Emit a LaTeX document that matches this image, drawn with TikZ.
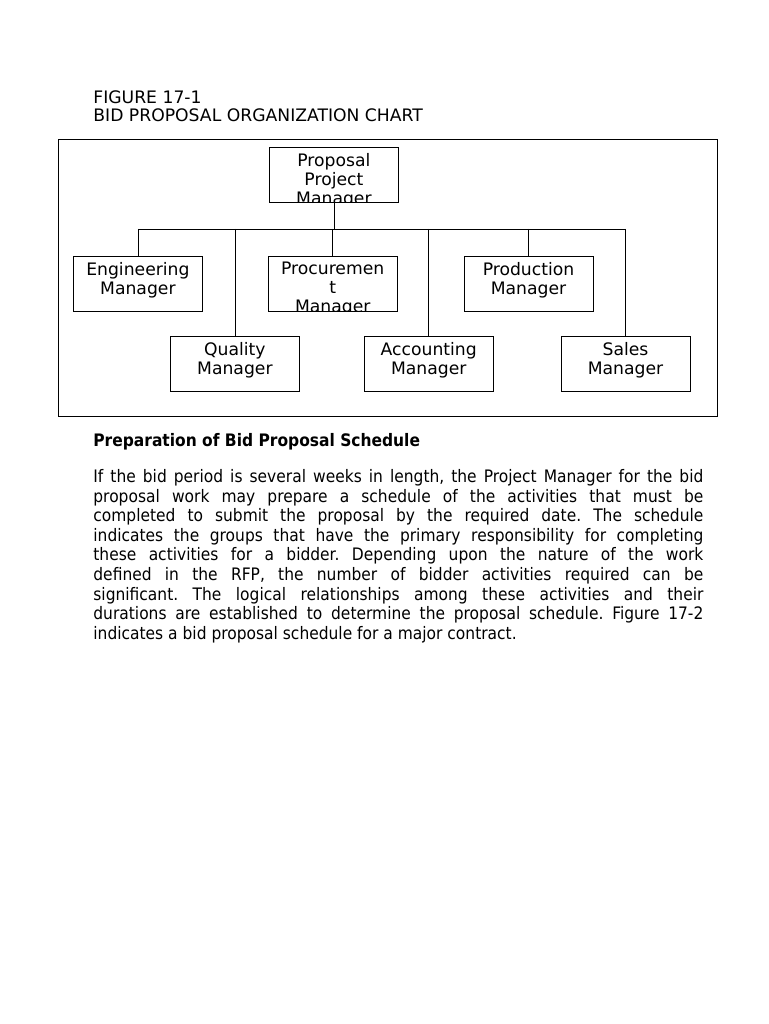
\documentclass[tikz,border=0pt]{standalone}
\usepackage{fontspec}
\setmainfont{DejaVu Sans}
\newfontfamily\narrowfont[FakeStretch=0.9]{DejaVu Sans}
\usetikzlibrary{positioning}
\newcommand{\boxfont}{\fontsize{17.2}{19}\selectfont}
\newcommand{\bodyfont}{\narrowfont\fontsize{17.2}{19.6}\selectfont\frenchspacing}

\tikzset{
  orgbox/.style={draw, minimum width=129pt, minimum height=55pt, inner sep=0pt},
  boxtext/.style={anchor=north, yshift=-6pt, align=center, inner sep=0pt, font=\boxfont},
}

\begin{document}
\begin{tikzpicture}[x=1pt, y=-1pt, line width=0.8pt]
        \useasboundingbox (0,0) rectangle (768,1024);

        \node [anchor=north west, align=left, inner sep=0pt, font=\fontsize{17.2}{18}\selectfont] (title) at (93,90)
              {FIGURE 17-1\\BID PROPOSAL ORGANIZATION CHART};
        \draw (58,139) rectangle (717,416);

        \node [orgbox, anchor=north west] (pm) at (269,147) {};
        \node [orgbox, anchor=north west] (eng) at (73,256) {};
        \node [orgbox, right=65pt of eng] (proc) {};
        \node [orgbox, right=66pt of proc] (prod) {};
        \node [orgbox, anchor=north west] (qual) at (170,336) {};
        \node [orgbox, right=64pt of qual] (acc) {};
        \node [orgbox, right=67pt of acc] (sal) {};

        \begin{scope}
          \clip (pm.south west) rectangle (pm.north east);
          \node [boxtext] (pmtext) at (pm.north) {Proposal\\Project\\Manager};
        \end{scope}
        \begin{scope}
          \clip (proc.south west) rectangle (proc.north east);
          \node [boxtext] (proctext) at (proc.north) {Procuremen\\t\\Manager};
        \end{scope}
        \node [boxtext] (engtext) at (eng.north) {Engineering\\Manager};
        \node [boxtext] (prodtext) at (prod.north) {Production\\Manager};
        \node [boxtext] (qualtext) at (qual.north) {Quality\\Manager};
        \node [boxtext] (acctext) at (acc.north) {Accounting\\Manager};
        \node [boxtext] (saltext) at (sal.north) {Sales\\Manager};

        \coordinate (bus) at (0,229);
        \draw (pm.south) -- (pm.south |- bus);
        \draw (eng.north |- bus) -- (sal.north |- bus);
        \foreach \n in {eng, qual, proc, acc, prod, sal}
          \draw (\n.north |- bus) -- (\n.north);

        \node [anchor=north west, inner sep=0pt, font=\bodyfont\bfseries] (head) at (93,433)
              {Preparation of Bid Proposal Schedule};
        \node [anchor=north west, text width=610pt, align=justify, inner sep=0pt, font=\bodyfont] (body) at (93,469)
              {\hyphenpenalty=10000 \tolerance=9999
               If the bid period is several weeks in length, the Project Manager for the bid\linebreak
               proposal work may prepare a schedule of the activities that must be\linebreak
               completed to submit the proposal by the required date. The schedule\linebreak
               indicates the groups that have the primary responsibility for completing\linebreak
               these activities for a bidder. Depending upon the nature of the work\linebreak
               defined in the RFP, the number of bidder activities required can be\linebreak
               significant. The logical relationships among these activities and their\linebreak
               durations are established to determine the proposal schedule. Figure 17-2\linebreak
               indicates a bid proposal schedule for a major contract.};
      \end{tikzpicture}
\end{document}
